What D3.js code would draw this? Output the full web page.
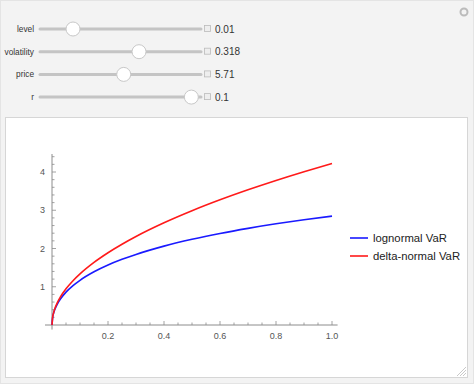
<!DOCTYPE html>
<html><head><meta charset="utf-8">
<script src="https://cdn.jsdelivr.net/npm/d3@7"></script>
<style>
html,body{margin:0;padding:0;background:#f3f3f3;}
svg{display:block;font-family:"Helvetica Neue",Arial,"Liberation Sans",sans-serif;}
</style></head>
<body><svg id="c" width="474" height="384"></svg>
<script>
// Controls
const sliderLabels = ["level", "volatility", "price", "r"];
const sliderValues = ["0.01", "0.318", "5.71", "0.1"];
const sliderFrac = [0.205, 0.615, 0.52, 0.94];

// Data
const tValues = [0, 0.0025, 0.005, 0.01, 0.02, 0.03, 0.05, 0.075, 0.1, 0.15, 0.2, 0.25, 0.3, 0.4, 0.5, 0.6, 0.7, 0.8, 0.9, 1.0];
const lognormalVaR = [0, 0.207, 0.290, 0.405, 0.562, 0.679, 0.859, 1.030, 1.169, 1.391, 1.568, 1.716, 1.845, 2.062, 2.241, 2.394, 2.527, 2.645, 2.751, 2.847];
const deltaNormalVaR = [0, 0.211, 0.299, 0.422, 0.597, 0.732, 0.945, 1.157, 1.336, 1.636, 1.889, 2.112, 2.314, 2.672, 2.987, 3.272, 3.534, 3.778, 4.007, 4.224];
const seriesNames = ["lognormal VaR", "delta-normal VaR"];
const seriesColors = ["#1a1aff", "#ff1a1a"];
const xTicks = [0.2, 0.4, 0.6, 0.8, 1.0];
const yTicks = [1, 2, 3, 4];

const svg = d3.select("#c");

// outer frame
svg.append("rect").attr("x",0.5).attr("y",0.5).attr("width",473).attr("height",383)
  .attr("fill","#f3f3f3").attr("stroke","#e4e4e4");

// gear icon
svg.append("circle").attr("cx",464).attr("cy",12).attr("r",3.5).attr("fill","none").attr("stroke","#bbb").attr("stroke-width",2);

// sliders
const trackX0 = 40, trackX1 = 201;
sliderLabels.forEach((lab,i)=>{
  const y = 29 + i*22.7;
  const g = svg.append("g");
  g.append("text").attr("x",34).attr("y",y+3).attr("text-anchor","end")
    .attr("font-size",8.3).attr("fill","#333").text(lab);
  g.append("line").attr("x1",trackX0).attr("x2",trackX1).attr("y1",y).attr("y2",y)
    .attr("stroke","#c4c4c4").attr("stroke-width",3).attr("stroke-linecap","round");
  const kx = trackX0 + sliderFrac[i]*(trackX1-trackX0);
  g.append("circle").attr("cx",kx).attr("cy",y).attr("r",7)
    .attr("fill","#fff").attr("stroke","#c8c8c8").attr("stroke-width",1);
  g.append("rect").attr("x",204.5).attr("y",y-3.5).attr("width",6).attr("height",6)
    .attr("fill","#eee").attr("stroke","#bbb").attr("stroke-width",0.8);
  g.append("text").attr("x",215).attr("y",y+3.5).attr("font-size",10).attr("fill","#333").text(sliderValues[i]);
});

// plot panel
svg.append("rect").attr("x",5.5).attr("y",117.5).attr("width",462).attr("height",260)
  .attr("fill","#fff").attr("stroke","#d6d6d6");
// resize grip
[0,1,2].forEach(k=>{
  svg.append("line").attr("x1",457+k*3).attr("y1",376).attr("x2",466).attr("y2",367+k*3)
    .attr("stroke","#bbb").attr("stroke-width",0.8);
});

const x = d3.scaleLinear().domain([0,1]).range([52,332]);
const y = d3.scaleLinear().domain([0,4]).range([325,172]);

const axisColor = "#8c8c8c";
const g = svg.append("g");
// x axis line
g.append("line").attr("x1",x(-0.025)).attr("x2",x(1.02)).attr("y1",y(0)).attr("y2",y(0))
  .attr("stroke",axisColor).attr("stroke-width",1);
// y axis line
g.append("line").attr("x1",x(0)).attr("x2",x(0)).attr("y1",y(-0.12)).attr("y2",y(4.47))
  .attr("stroke",axisColor).attr("stroke-width",1);

// x ticks
d3.range(1,21).forEach(k=>{
  const v = k*0.05, major = (k%4===0);
  g.append("line").attr("x1",x(v)).attr("x2",x(v)).attr("y1",y(0)).attr("y2",y(0)-(major?4:2.5))
    .attr("stroke",axisColor).attr("stroke-width",0.8);
});
xTicks.forEach(v=>{
  g.append("text").attr("x",x(v)).attr("y",y(0)+14).attr("text-anchor","middle")
    .attr("font-size",9).attr("fill","#555").text(d3.format(".1f")(v));
});
// y ticks
d3.range(1,23).forEach(k=>{
  const v = k*0.2, major = (k%5===0);
  g.append("line").attr("x1",x(0)).attr("x2",x(0)+(major?4:2.5)).attr("y1",y(v)).attr("y2",y(v))
    .attr("stroke",axisColor).attr("stroke-width",0.8);
});
yTicks.forEach(v=>{
  g.append("text").attr("x",x(0)-7).attr("y",y(v)+3).attr("text-anchor","end")
    .attr("font-size",9).attr("fill","#555").text(v);
});

const line = d3.line().x((d,i)=>x(tValues[i])).y(d=>y(d)).curve(d3.curveMonotoneX);
[lognormalVaR, deltaNormalVaR].forEach((s,i)=>{
  svg.append("path").datum(s).attr("d",line).attr("fill","none")
    .attr("stroke",seriesColors[i]).attr("stroke-width",1.6);
});

// legend
seriesNames.forEach((n,i)=>{
  const ly = 238 + i*18;
  svg.append("line").attr("x1",350).attr("x2",368).attr("y1",ly).attr("y2",ly)
    .attr("stroke",seriesColors[i]).attr("stroke-width",1.6);
  svg.append("text").attr("x",373).attr("y",ly+4).attr("font-size",11.3).attr("fill","#222").text(n);
});
</script></body></html>
